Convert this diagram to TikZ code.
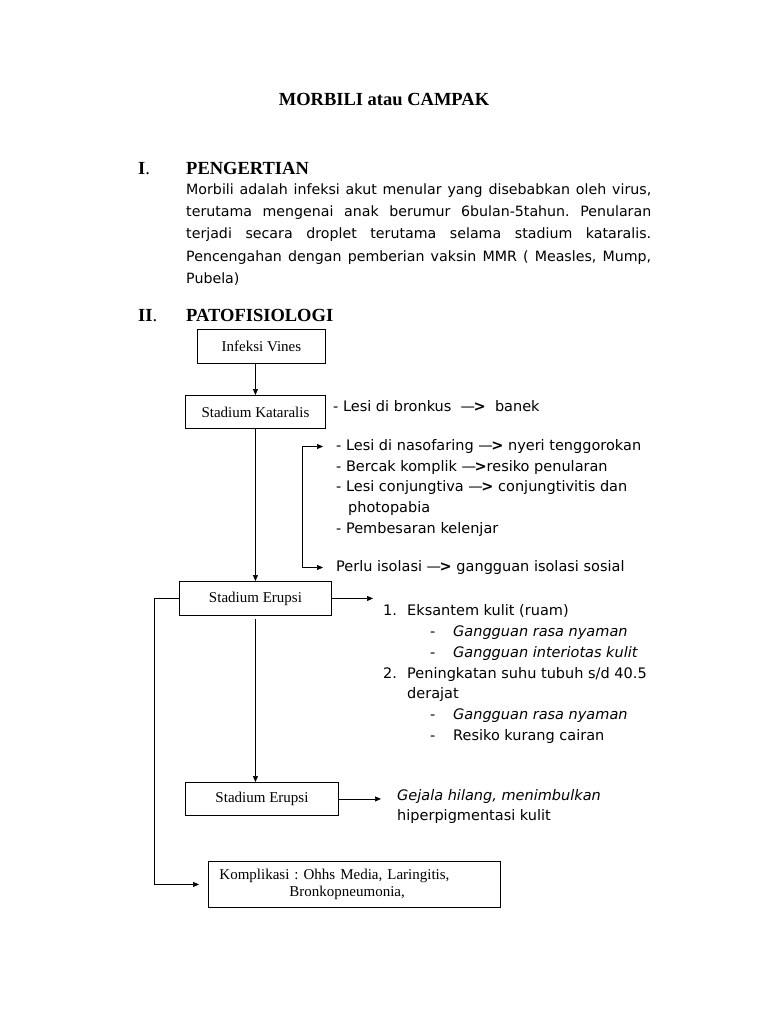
\documentclass[tikz,border=0pt]{standalone}
\usepackage{fontspec}
\setmainfont{Liberation Serif}
\newfontfamily\komik{DejaVu Sans}
\usetikzlibrary{arrows.meta}
\frenchspacing

\newcommand{\pnh}{\mbox{—\kern-1.5pt\textbf{>}}}

\tikzset{
  kotak/.style={draw, line width=0.9pt, inner sep=0pt, font=\fontsize{15}{17}\selectfont},
  teks/.style={anchor=base west, inner sep=0pt, font=\komik\fontsize{14.5}{20}\selectfont},
  baris/.style={teks, text height=10pt, text depth=3pt},
  judul/.style={anchor=base west, inner sep=0pt, font=\bfseries\fontsize{18.5}{21}\selectfont},
  panah/.style={line width=0.7pt, -{Triangle[length=6pt,width=5pt]}},
  dua/.style={line width=0.7pt, {Triangle[length=6pt,width=5pt]}-{Triangle[length=6pt,width=5pt]}}
}

\begin{document}
\begin{tikzpicture}[x=1pt,y=-1pt]
\useasboundingbox[fill=white] (0,0) rectangle (768,1024);

% judul dan pengertian
\node[anchor=base, inner sep=0pt, font=\bfseries\fontsize{18.5}{21}\selectfont] (judul) at (384,106) {MORBILI atau CAMPAK};
\node[judul] (no1) at (138,175) {I\textmd{.}};
\node[judul] (pengertian) at (186,175) {PENGERTIAN};
\node[anchor=north west, inner sep=0pt, text width=465pt, align=justify,
      font=\komik\fontsize{14.2}{22.2}\selectfont] (definisi) at (186,183.5)
  {Morbili adalah infeksi akut menular yang disebabkan oleh virus,\linebreak
   terutama mengenai anak berumur 6bulan-5tahun. Penularan\linebreak
   terjadi secara droplet terutama selama stadium kataralis.\linebreak
   Pencengahan dengan pemberian vaksin MMR ( Measles, Mump,\linebreak
   Pubela)};

% patofisiologi
\node[judul] (no2) at (138,321) {II\textmd{.}};
\node[judul] (patofisiologi) at (186,321) {PATOFISIOLOGI};

\node[kotak, anchor=north west, minimum width=128pt, minimum height=34pt] (infeksi) at (197,329) {Infeksi Vines};
\node[kotak, anchor=north west, minimum width=140pt, minimum height=33pt] (katar) at (185,395) {Stadium Kataralis};
\node[kotak, anchor=north west, minimum width=152pt, minimum height=34pt] (erupsi1) at (179,581) {Stadium Erupsi};
\node[kotak, anchor=north west, minimum width=153pt, minimum height=33pt] (erupsi2) at (185,782) {Stadium Erupsi};
\node[kotak, anchor=north west, minimum height=46pt, inner xsep=11pt, text width=270pt, align=left] (kompl) at (208,861)
  {Komplikasi : Ohhs Media, Laringitis,\\\hspace*{70pt}Bronkopneumonia,};

% keterangan kataralis
\node[teks] (bronkus) at (333,411) {- Lesi di bronkus \ \pnh\ \ banek};
\node[baris] (naso) at (336,450) {- Lesi di nasofaring \pnh\ nyeri tenggorokan};
\node[baris] (bercak) at (336,471) {- Bercak komplik \pnh resiko penularan};
\node[baris] (conj) at (336,491) {- Lesi conjungtiva \pnh\ conjungtivitis dan};
\node[baris] (photo) at (348,512) {photopabia};
\node[baris] (kelenjar) at (336,533) {- Pembesaran kelenjar};
\node[baris] (perlu) at (336,571) {Perlu isolasi \pnh\ gangguan isolasi sosial};

% keterangan erupsi
\node[teks] (ruam) at (383,615) {\makebox[24pt][l]{1.}Eksantem kulit (ruam)};
\node[teks] (nyaman1) at (430,636) {\makebox[23pt][l]{-}\textit{Gangguan rasa nyaman}};
\node[teks] (kulit) at (430,657) {\makebox[23pt][l]{-}\textit{Gangguan interiotas kulit}};
\node[teks] (suhu) at (383,678) {\makebox[24pt][l]{2.}Peningkatan suhu tubuh s/d 40.5};
\node[teks] (derajat) at (407,698) {derajat};
\node[teks] (nyaman2) at (430,719) {\makebox[23pt][l]{-}\textit{Gangguan rasa nyaman}};
\node[teks] (cairan) at (430,740) {\makebox[23pt][l]{-}Resiko kurang cairan};

\node[teks] (gejala) at (397,800) {\textit{Gejala hilang, menimbulkan}};
\node[teks] (hiper) at (397,820) {hiperpigmentasi kulit};

% panah
\coordinate (belok) at (154,700);
\coordinate (ujung1) at (373,0);
\coordinate (ujung2) at (381,0);
\draw[panah] (infeksi.south -| katar.north) -- (katar.north);
\draw[panah] (katar) -- (erupsi1);
\draw[panah, shorten <=3pt] (erupsi1.south) -- (erupsi1.south |- erupsi2.north);
\draw[panah] (erupsi1.east) -- (erupsi1.east -| ujung1);
\draw[panah] (erupsi2.east) -- (erupsi2.east -| ujung2);
\draw[panah, shorten >=9pt] (erupsi1.west) -- (erupsi1.west -| belok) |- (kompl.west);
\draw[dua, shorten <=13pt, shorten >=13pt] (naso.west) -- ++(-34,0) |- (perlu.west);
\end{tikzpicture}
\end{document}
